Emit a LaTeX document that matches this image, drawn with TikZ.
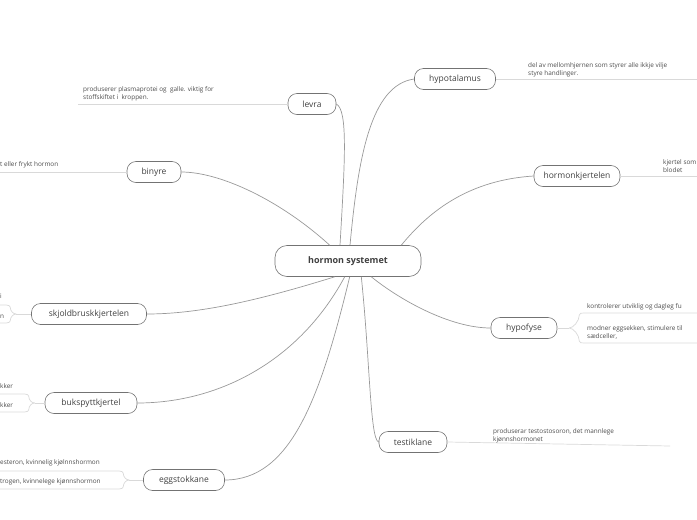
\documentclass[tikz,border=0pt]{standalone}
\usepackage{fontspec}
\setmainfont{Open Sans}
\begin{document}
\begin{tikzpicture}[x=1pt,y=-1pt,
  topic/.style={draw=black!55,rounded corners=9pt,minimum height=21pt,inner xsep=8pt,font=\fontsize{8.5}{10}\selectfont,text=black!75,line width=0.6pt},
  leaf/.style={font=\fontsize{6.4}{8}\selectfont,text=black!70,align=left,inner sep=0pt,anchor=south west},
  edge/.style={draw=black!40,line width=0.7pt},
  uline/.style={draw=black!15,line width=0.7pt}]
\useasboundingbox (0,0) rectangle (697,520);
\clip (0,0) rectangle (697,520);
\node[topic,minimum width=146pt,minimum height=31pt,rounded corners=12pt,font=\bfseries\fontsize{9}{11}\selectfont] (c) at (348,261) {hormon systemet};
\node[topic,minimum width=48pt] (levra) at (312,104) {levra};
\node[topic,minimum width=81pt] (hyt) at (455,79) {hypotalamus};
\node[topic,minimum width=86pt] (hk) at (577,176) {hormonkjertelen};
\node[topic,minimum width=54pt] (bin) at (154,172) {binyre};
\node[topic,minimum width=115pt] (sk) at (89,314) {skjoldbruskkjertelen};
\node[topic,minimum width=66pt] (hyp) at (524,328) {hypofyse};
\node[topic,minimum width=92pt] (bu) at (91,403) {bukspyttkjertel};
\node[topic,minimum width=68pt] (te) at (413,442) {testiklane};
\node[topic,minimum width=81pt] (eg) at (184,480) {eggstokkane};
% center edges
\draw[edge] (c.north) ++(-8,0) .. controls (345,160) and (348,110) .. (levra.east);
\draw[edge] (c.north) ++(2,0) .. controls (358,160) and (370,85) .. (hyt.west);
\draw[edge] (c.north east) ++(-20,0) .. controls (430,210) and (470,180) .. (hk.west);
\draw[edge] (c.north west) ++(55,0) .. controls (280,200) and (220,172) .. (bin.east);
\draw[edge] (c.south west) ++(60,0) .. controls (260,300) and (200,314) .. (sk.east);
\draw[edge] (c.south east) ++(-50,0) .. controls (400,300) and (450,328) .. (hyp.west);
\draw[edge] (c.south west) ++(70,0) .. controls (300,360) and (220,403) .. (bu.east);
\draw[edge] (c.south east) ++(-60,0) .. controls (370,360) and (370,440) .. (te.west);
\draw[edge] (c.south west) ++(75,0) .. controls (320,400) and (290,480) .. (eg.east);
% leaves
\coordinate (l1) at (78,104);
\draw[uline] (levra.west) -- (l1);
\node[leaf] (t1) at (83,101) {produserer plasmaprotei og \ galle. viktig for\\stoffskiftet i \ kroppen.};
\coordinate (l2) at (697,79);
\draw[uline] (hyt.east) -- (l2);
\node[leaf] (t2) at (528,77) {del av mellomhjernen som styrer alle ikkje vilje\\styre handlinger.};
\coordinate (l3) at (0,172);
\draw[uline] (bin.west) -- (l3);
\node[leaf] (t3) at (0,168) {t eller frykt hormon};
\coordinate (l4) at (697,176);
\draw[uline] (hk.east) -- (l4);
\node[leaf] (t4) at (663,173) {kjertel som\\blodet};
\coordinate (l5) at (670,446);
\draw[uline] (te.east) -- (l5);
\node[leaf] (t5) at (493,443) {produserar testostosoron, det mannlege\\kjønnshormonet};
% hypofyse bracket
\coordinate (h1) at (697,313);
\coordinate (h2) at (697,343);
\draw[uline] (hyp.east) -- ++(12,0) coordinate (hb);
\draw[uline] (hb) .. controls ++(4,0) and ++(0,6) .. ++(10,-13) .. controls ++(0,-2) and ++(-3,0) .. ++(5,-2) -- (h1);
\draw[uline] (hb) .. controls ++(4,0) and ++(0,-6) .. ++(10,13) .. controls ++(0,2) and ++(-3,0) .. ++(5,2) -- (h2);
\node[leaf] (t6) at (587,310) {kontrolerer utviklig og dagleg fu};
\node[leaf] (t7) at (587,340) {modner eggsekken, stimulere til\\sædceller,};
% skjoldbrusk bracket
\draw[uline] (sk.west) -- ++(-15,0) coordinate (sb);
\draw[uline] (sb) .. controls ++(-3,0) and ++(0,4) .. ++(-6,-7) .. controls ++(0,-1) and ++(2,0) .. ++(-4,-2) -- (0,305);
\draw[uline] (sb) .. controls ++(-3,0) and ++(0,-4) .. ++(-6,7) .. controls ++(0,1) and ++(2,0) .. ++(-4,2) -- (0,323);
\node[leaf] (t8) at (0,299) {i};
\node[leaf] (t9) at (0,319) {n};
% bukspytt bracket
\draw[uline] (bu.west) -- ++(-10,0) coordinate (bb);
\draw[uline] (bb) .. controls ++(-3,0) and ++(0,4) .. ++(-6,-7) .. controls ++(0,-1) and ++(2,0) .. ++(-4,-2) -- (0,394);
\draw[uline] (bb) .. controls ++(-3,0) and ++(0,-4) .. ++(-6,7) .. controls ++(0,1) and ++(2,0) .. ++(-4,2) -- (0,412);
\node[leaf] (t10) at (0,389) {kker};
\node[leaf] (t11) at (0,408) {kker};
% eggstokkane bracket
\draw[uline] (eg.west) -- ++(-14,0) coordinate (eb);
\draw[uline] (eb) .. controls ++(-3,0) and ++(0,4) .. ++(-6,-7) .. controls ++(0,-1) and ++(2,0) .. ++(-4,-2) -- (0,471);
\draw[uline] (eb) .. controls ++(-3,0) and ++(0,-4) .. ++(-6,7) .. controls ++(0,1) and ++(2,0) .. ++(-4,2) -- (0,489);
\node[leaf] (t12) at (0,466) {esteron, kvinnelig kjølnnshormon};
\node[leaf] (t13) at (0,485) {trogen, kvinnelege kjønnshormon};
\end{tikzpicture}
\end{document}
